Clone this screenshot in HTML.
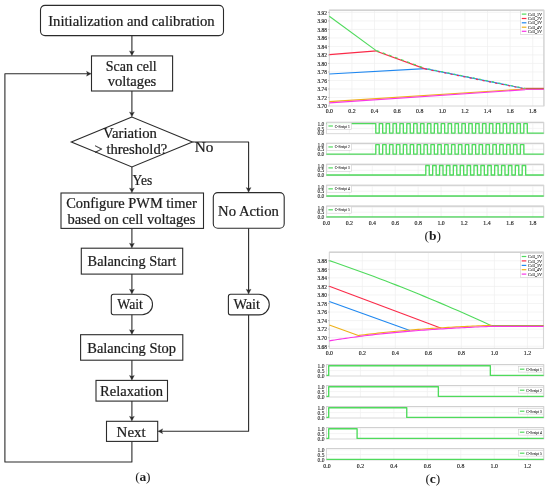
<!DOCTYPE html>
<html><head><meta charset="utf-8"><style>
html,body{margin:0;padding:0;background:#fff;width:550px;height:489px;overflow:hidden}
svg{display:block}
</style></head><body>
<svg width="550" height="489" viewBox="0 0 550 489">
<rect width="550" height="489" fill="#fff"/>
<rect x="40.50" y="5.40" width="183.00" height="30.20" rx="4.5" fill="#fff" stroke="#2b2b2b" stroke-width="1.1"/>
<text x="48.15" y="25.60" font-size="14.0" stroke="#1c1c1c" stroke-width="0.22" textLength="166.55" lengthAdjust="spacingAndGlyphs" fill="#1c1c1c" font-family="'Liberation Serif', 'DejaVu Serif', serif" >Initialization and calibration</text>
<line x1="131.90" y1="35.60" x2="131.90" y2="53.90" stroke="#2b2b2b" stroke-width="1.1" />
<path d="M131.90,55.90 Q131.04,53.65 129.45,50.90 L131.90,51.80 L134.35,50.90 Q132.76,53.65 131.90,55.90 Z" fill="#2b2b2b" stroke="#2b2b2b" stroke-width="0.3" stroke-linejoin="round"/>
<rect x="91.50" y="55.90" width="81.10" height="35.10" rx="0" fill="#fff" stroke="#2b2b2b" stroke-width="1.1"/>
<text x="105.85" y="70.60" font-size="14.0" stroke="#1c1c1c" stroke-width="0.22" textLength="50.85" lengthAdjust="spacingAndGlyphs" fill="#1c1c1c" font-family="'Liberation Serif', 'DejaVu Serif', serif" >Scan cell</text>
<text x="107.70" y="85.90" font-size="14.0" stroke="#1c1c1c" stroke-width="0.22" textLength="48.60" lengthAdjust="spacingAndGlyphs" fill="#1c1c1c" font-family="'Liberation Serif', 'DejaVu Serif', serif" >voltages</text>
<line x1="131.90" y1="91.00" x2="131.90" y2="115.00" stroke="#2b2b2b" stroke-width="1.1" />
<path d="M131.90,117.00 Q131.04,114.75 129.45,112.00 L131.90,112.90 L134.35,112.00 Q132.76,114.75 131.90,117.00 Z" fill="#2b2b2b" stroke="#2b2b2b" stroke-width="0.3" stroke-linejoin="round"/>
<polygon points="131.9,117.0 71.3,142.0 131.9,166.9 192.4,142.0" fill="#fff" stroke="#2b2b2b" stroke-width="1.1" stroke-linejoin="miter"/>
<text x="103.00" y="138.10" font-size="14.0" stroke="#1c1c1c" stroke-width="0.22" textLength="54.00" lengthAdjust="spacingAndGlyphs" fill="#1c1c1c" font-family="'Liberation Serif', 'DejaVu Serif', serif" >Variation</text>
<text x="94.50" y="154.30" font-size="14.0" stroke="#1c1c1c" stroke-width="0.22" textLength="72.70" lengthAdjust="spacingAndGlyphs" fill="#1c1c1c" font-family="'Liberation Serif', 'DejaVu Serif', serif" >&gt; threshold?</text>
<text x="194.85" y="152.00" font-size="14.0" stroke="#1c1c1c" stroke-width="0.22" textLength="18.65" lengthAdjust="spacingAndGlyphs" fill="#1c1c1c" font-family="'Liberation Serif', 'DejaVu Serif', serif" >No</text>
<text x="132.60" y="184.70" font-size="14.0" stroke="#1c1c1c" stroke-width="0.22" textLength="19.60" lengthAdjust="spacingAndGlyphs" fill="#1c1c1c" font-family="'Liberation Serif', 'DejaVu Serif', serif" >Yes</text>
<line x1="131.90" y1="166.90" x2="131.90" y2="191.00" stroke="#2b2b2b" stroke-width="1.1" />
<path d="M131.90,193.00 Q131.04,190.75 129.45,188.00 L131.90,188.90 L134.35,188.00 Q132.76,190.75 131.90,193.00 Z" fill="#2b2b2b" stroke="#2b2b2b" stroke-width="0.3" stroke-linejoin="round"/>
<rect x="61.00" y="193.00" width="142.50" height="35.40" rx="0" fill="#fff" stroke="#2b2b2b" stroke-width="1.1"/>
<text x="66.20" y="207.80" font-size="14.0" stroke="#1c1c1c" stroke-width="0.22" textLength="130.60" lengthAdjust="spacingAndGlyphs" fill="#1c1c1c" font-family="'Liberation Serif', 'DejaVu Serif', serif" >Configure PWM timer</text>
<text x="67.40" y="223.90" font-size="14.0" stroke="#1c1c1c" stroke-width="0.22" textLength="128.10" lengthAdjust="spacingAndGlyphs" fill="#1c1c1c" font-family="'Liberation Serif', 'DejaVu Serif', serif" >based on cell voltages</text>
<line x1="131.90" y1="228.40" x2="131.90" y2="246.20" stroke="#2b2b2b" stroke-width="1.1" />
<path d="M131.90,248.20 Q131.04,245.95 129.45,243.20 L131.90,244.10 L134.35,243.20 Q132.76,245.95 131.90,248.20 Z" fill="#2b2b2b" stroke="#2b2b2b" stroke-width="0.3" stroke-linejoin="round"/>
<rect x="81.30" y="248.20" width="101.40" height="25.90" rx="0" fill="#fff" stroke="#2b2b2b" stroke-width="1.1"/>
<text x="87.60" y="266.00" font-size="14.0" stroke="#1c1c1c" stroke-width="0.22" textLength="88.60" lengthAdjust="spacingAndGlyphs" fill="#1c1c1c" font-family="'Liberation Serif', 'DejaVu Serif', serif" >Balancing Start</text>
<line x1="131.90" y1="274.10" x2="131.90" y2="292.20" stroke="#2b2b2b" stroke-width="1.1" />
<path d="M131.90,294.20 Q131.04,291.95 129.45,289.20 L131.90,290.10 L134.35,289.20 Q132.76,291.95 131.90,294.20 Z" fill="#2b2b2b" stroke="#2b2b2b" stroke-width="0.3" stroke-linejoin="round"/>
<path d="M113.50,294.20 L142.25,294.20 A10.25,10.25 0 0 1 142.25,314.70 L113.50,314.70 Q111.30,314.70 111.30,312.50 L111.30,296.40 Q111.30,294.20 113.50,294.20 Z" fill="#fff" stroke="#2b2b2b" stroke-width="1.1"/>
<text x="117.30" y="309.20" font-size="14.0" stroke="#1c1c1c" stroke-width="0.22" textLength="25.60" lengthAdjust="spacingAndGlyphs" fill="#1c1c1c" font-family="'Liberation Serif', 'DejaVu Serif', serif" >Wait</text>
<line x1="131.90" y1="314.70" x2="131.90" y2="332.70" stroke="#2b2b2b" stroke-width="1.1" />
<path d="M131.90,334.70 Q131.04,332.45 129.45,329.70 L131.90,330.60 L134.35,329.70 Q132.76,332.45 131.90,334.70 Z" fill="#2b2b2b" stroke="#2b2b2b" stroke-width="0.3" stroke-linejoin="round"/>
<rect x="80.60" y="334.70" width="102.20" height="25.50" rx="0" fill="#fff" stroke="#2b2b2b" stroke-width="1.1"/>
<text x="87.30" y="352.50" font-size="14.0" stroke="#1c1c1c" stroke-width="0.22" textLength="88.60" lengthAdjust="spacingAndGlyphs" fill="#1c1c1c" font-family="'Liberation Serif', 'DejaVu Serif', serif" >Balancing Stop</text>
<line x1="131.90" y1="360.20" x2="131.90" y2="378.40" stroke="#2b2b2b" stroke-width="1.1" />
<path d="M131.90,380.40 Q131.04,378.15 129.45,375.40 L131.90,376.30 L134.35,375.40 Q132.76,378.15 131.90,380.40 Z" fill="#2b2b2b" stroke="#2b2b2b" stroke-width="0.3" stroke-linejoin="round"/>
<rect x="96.00" y="380.40" width="71.50" height="20.70" rx="0" fill="#fff" stroke="#2b2b2b" stroke-width="1.1"/>
<text x="100.00" y="396.30" font-size="14.0" stroke="#1c1c1c" stroke-width="0.22" textLength="63.00" lengthAdjust="spacingAndGlyphs" fill="#1c1c1c" font-family="'Liberation Serif', 'DejaVu Serif', serif" >Relaxation</text>
<line x1="131.90" y1="401.10" x2="131.90" y2="419.30" stroke="#2b2b2b" stroke-width="1.1" />
<path d="M131.90,421.30 Q131.04,419.05 129.45,416.30 L131.90,417.20 L134.35,416.30 Q132.76,419.05 131.90,421.30 Z" fill="#2b2b2b" stroke="#2b2b2b" stroke-width="0.3" stroke-linejoin="round"/>
<rect x="106.50" y="421.30" width="51.20" height="20.10" rx="0" fill="#fff" stroke="#2b2b2b" stroke-width="1.1"/>
<text x="116.60" y="436.60" font-size="14.0" stroke="#1c1c1c" stroke-width="0.22" textLength="29.10" lengthAdjust="spacingAndGlyphs" fill="#1c1c1c" font-family="'Liberation Serif', 'DejaVu Serif', serif" >Next</text>
<polyline points="131.90,441.40 131.90,462.00 4.90,462.00 4.90,73.70 89.00,73.70" fill="none" stroke="#2b2b2b" stroke-width="1.1" stroke-linejoin="round" stroke-linejoin="miter"/>
<path d="M91.50,73.70 Q89.25,72.84 86.50,71.25 L87.40,73.70 L86.50,76.15 Q89.25,74.56 91.50,73.70 Z" fill="#2b2b2b" stroke="#2b2b2b" stroke-width="0.3" stroke-linejoin="round"/>
<polyline points="192.40,142.00 248.60,142.00 248.60,190.60" fill="none" stroke="#2b2b2b" stroke-width="1.1" stroke-linejoin="round" stroke-linejoin="miter"/>
<path d="M248.60,192.60 Q247.74,190.35 246.15,187.60 L248.60,188.50 L251.05,187.60 Q249.46,190.35 248.60,192.60 Z" fill="#2b2b2b" stroke="#2b2b2b" stroke-width="0.3" stroke-linejoin="round"/>
<rect x="213.30" y="192.60" width="70.90" height="35.70" rx="4.5" fill="#fff" stroke="#2b2b2b" stroke-width="1.1"/>
<text x="218.10" y="215.60" font-size="14.0" stroke="#1c1c1c" stroke-width="0.22" textLength="60.80" lengthAdjust="spacingAndGlyphs" fill="#1c1c1c" font-family="'Liberation Serif', 'DejaVu Serif', serif" >No Action</text>
<line x1="248.60" y1="228.30" x2="248.60" y2="292.20" stroke="#2b2b2b" stroke-width="1.1" />
<path d="M248.60,294.20 Q247.74,291.95 246.15,289.20 L248.60,290.10 L251.05,289.20 Q249.46,291.95 248.60,294.20 Z" fill="#2b2b2b" stroke="#2b2b2b" stroke-width="0.3" stroke-linejoin="round"/>
<path d="M230.60,294.20 L258.95,294.20 A10.35,10.35 0 0 1 258.95,314.90 L230.60,314.90 Q228.40,314.90 228.40,312.70 L228.40,296.40 Q228.40,294.20 230.60,294.20 Z" fill="#fff" stroke="#2b2b2b" stroke-width="1.1"/>
<text x="233.40" y="309.20" font-size="14.0" stroke="#1c1c1c" stroke-width="0.22" textLength="26.70" lengthAdjust="spacingAndGlyphs" fill="#1c1c1c" font-family="'Liberation Serif', 'DejaVu Serif', serif" >Wait</text>
<polyline points="248.60,314.90 248.60,431.20 160.20,431.20" fill="none" stroke="#2b2b2b" stroke-width="1.1" stroke-linejoin="round" stroke-linejoin="miter"/>
<path d="M157.70,431.20 Q159.95,430.34 162.70,428.75 L161.80,431.20 L162.70,433.65 Q159.95,432.06 157.70,431.20 Z" fill="#2b2b2b" stroke="#2b2b2b" stroke-width="0.3" stroke-linejoin="round"/>
<text x="135.15" y="480.60" font-size="13.5" fill="#1c1c1c" font-family="'Liberation Serif', 'DejaVu Serif', serif" >(</text>
<text x="139.55" y="480.60" font-size="13.5" font-weight="bold" fill="#1c1c1c" font-family="'Liberation Serif', 'DejaVu Serif', serif" >a</text>
<text x="146.05" y="480.60" font-size="13.5" fill="#1c1c1c" font-family="'Liberation Serif', 'DejaVu Serif', serif" >)</text>
<line x1="351.90" y1="10.20" x2="351.90" y2="106.00" stroke="#efefef" stroke-width="0.7" />
<line x1="374.50" y1="10.20" x2="374.50" y2="106.00" stroke="#efefef" stroke-width="0.7" />
<line x1="397.10" y1="10.20" x2="397.10" y2="106.00" stroke="#efefef" stroke-width="0.7" />
<line x1="419.70" y1="10.20" x2="419.70" y2="106.00" stroke="#efefef" stroke-width="0.7" />
<line x1="442.30" y1="10.20" x2="442.30" y2="106.00" stroke="#efefef" stroke-width="0.7" />
<line x1="464.90" y1="10.20" x2="464.90" y2="106.00" stroke="#efefef" stroke-width="0.7" />
<line x1="487.50" y1="10.20" x2="487.50" y2="106.00" stroke="#efefef" stroke-width="0.7" />
<line x1="510.10" y1="10.20" x2="510.10" y2="106.00" stroke="#efefef" stroke-width="0.7" />
<line x1="532.70" y1="10.20" x2="532.70" y2="106.00" stroke="#efefef" stroke-width="0.7" />
<line x1="329.30" y1="97.49" x2="543.90" y2="97.49" stroke="#efefef" stroke-width="0.7" />
<line x1="329.30" y1="88.98" x2="543.90" y2="88.98" stroke="#efefef" stroke-width="0.7" />
<line x1="329.30" y1="80.47" x2="543.90" y2="80.47" stroke="#efefef" stroke-width="0.7" />
<line x1="329.30" y1="71.96" x2="543.90" y2="71.96" stroke="#efefef" stroke-width="0.7" />
<line x1="329.30" y1="63.45" x2="543.90" y2="63.45" stroke="#efefef" stroke-width="0.7" />
<line x1="329.30" y1="54.94" x2="543.90" y2="54.94" stroke="#efefef" stroke-width="0.7" />
<line x1="329.30" y1="46.43" x2="543.90" y2="46.43" stroke="#efefef" stroke-width="0.7" />
<line x1="329.30" y1="37.92" x2="543.90" y2="37.92" stroke="#efefef" stroke-width="0.7" />
<line x1="329.30" y1="29.41" x2="543.90" y2="29.41" stroke="#efefef" stroke-width="0.7" />
<line x1="329.30" y1="20.90" x2="543.90" y2="20.90" stroke="#efefef" stroke-width="0.7" />
<line x1="329.30" y1="12.39" x2="543.90" y2="12.39" stroke="#efefef" stroke-width="0.7" />
<rect x="329.30" y="10.20" width="214.60" height="95.80" fill="none" stroke="#d4d4d4" stroke-width="1.0"/>
<line x1="329.30" y1="10.20" x2="543.90" y2="10.20" stroke="#d2d2d2" stroke-width="1.4" />
<line x1="543.90" y1="10.20" x2="543.90" y2="106.00" stroke="#d6d6d6" stroke-width="1.1" />
<line x1="328.10" y1="106.00" x2="329.30" y2="106.00" stroke="#999" stroke-width="0.6" />
<text x="317.50" y="108.35" font-size="6.8" stroke="#1a1a1a" stroke-width="0.16" textLength="9.40" lengthAdjust="spacingAndGlyphs" fill="#1a1a1a" font-family="'Liberation Serif', serif" >3.70</text>
<line x1="328.10" y1="97.49" x2="329.30" y2="97.49" stroke="#999" stroke-width="0.6" />
<text x="317.50" y="99.84" font-size="6.8" stroke="#1a1a1a" stroke-width="0.16" textLength="9.40" lengthAdjust="spacingAndGlyphs" fill="#1a1a1a" font-family="'Liberation Serif', serif" >3.72</text>
<line x1="328.10" y1="88.98" x2="329.30" y2="88.98" stroke="#999" stroke-width="0.6" />
<text x="317.50" y="91.33" font-size="6.8" stroke="#1a1a1a" stroke-width="0.16" textLength="9.40" lengthAdjust="spacingAndGlyphs" fill="#1a1a1a" font-family="'Liberation Serif', serif" >3.74</text>
<line x1="328.10" y1="80.47" x2="329.30" y2="80.47" stroke="#999" stroke-width="0.6" />
<text x="317.50" y="82.82" font-size="6.8" stroke="#1a1a1a" stroke-width="0.16" textLength="9.40" lengthAdjust="spacingAndGlyphs" fill="#1a1a1a" font-family="'Liberation Serif', serif" >3.76</text>
<line x1="328.10" y1="71.96" x2="329.30" y2="71.96" stroke="#999" stroke-width="0.6" />
<text x="317.50" y="74.31" font-size="6.8" stroke="#1a1a1a" stroke-width="0.16" textLength="9.40" lengthAdjust="spacingAndGlyphs" fill="#1a1a1a" font-family="'Liberation Serif', serif" >3.78</text>
<line x1="328.10" y1="63.45" x2="329.30" y2="63.45" stroke="#999" stroke-width="0.6" />
<text x="317.50" y="65.80" font-size="6.8" stroke="#1a1a1a" stroke-width="0.16" textLength="9.40" lengthAdjust="spacingAndGlyphs" fill="#1a1a1a" font-family="'Liberation Serif', serif" >3.80</text>
<line x1="328.10" y1="54.94" x2="329.30" y2="54.94" stroke="#999" stroke-width="0.6" />
<text x="317.50" y="57.29" font-size="6.8" stroke="#1a1a1a" stroke-width="0.16" textLength="9.40" lengthAdjust="spacingAndGlyphs" fill="#1a1a1a" font-family="'Liberation Serif', serif" >3.82</text>
<line x1="328.10" y1="46.43" x2="329.30" y2="46.43" stroke="#999" stroke-width="0.6" />
<text x="317.50" y="48.78" font-size="6.8" stroke="#1a1a1a" stroke-width="0.16" textLength="9.40" lengthAdjust="spacingAndGlyphs" fill="#1a1a1a" font-family="'Liberation Serif', serif" >3.84</text>
<line x1="328.10" y1="37.92" x2="329.30" y2="37.92" stroke="#999" stroke-width="0.6" />
<text x="317.50" y="40.27" font-size="6.8" stroke="#1a1a1a" stroke-width="0.16" textLength="9.40" lengthAdjust="spacingAndGlyphs" fill="#1a1a1a" font-family="'Liberation Serif', serif" >3.86</text>
<line x1="328.10" y1="29.41" x2="329.30" y2="29.41" stroke="#999" stroke-width="0.6" />
<text x="317.50" y="31.76" font-size="6.8" stroke="#1a1a1a" stroke-width="0.16" textLength="9.40" lengthAdjust="spacingAndGlyphs" fill="#1a1a1a" font-family="'Liberation Serif', serif" >3.88</text>
<line x1="328.10" y1="20.90" x2="329.30" y2="20.90" stroke="#999" stroke-width="0.6" />
<text x="317.50" y="23.25" font-size="6.8" stroke="#1a1a1a" stroke-width="0.16" textLength="9.40" lengthAdjust="spacingAndGlyphs" fill="#1a1a1a" font-family="'Liberation Serif', serif" >3.90</text>
<line x1="328.10" y1="12.39" x2="329.30" y2="12.39" stroke="#999" stroke-width="0.6" />
<text x="317.50" y="14.74" font-size="6.8" stroke="#1a1a1a" stroke-width="0.16" textLength="9.40" lengthAdjust="spacingAndGlyphs" fill="#1a1a1a" font-family="'Liberation Serif', serif" >3.92</text>
<text x="325.65" y="113.00" font-size="6.8" stroke="#1a1a1a" stroke-width="0.16" textLength="7.30" lengthAdjust="spacingAndGlyphs" fill="#1a1a1a" font-family="'Liberation Serif', serif" >0.0</text>
<text x="348.25" y="113.00" font-size="6.8" stroke="#1a1a1a" stroke-width="0.16" textLength="7.30" lengthAdjust="spacingAndGlyphs" fill="#1a1a1a" font-family="'Liberation Serif', serif" >0.2</text>
<text x="370.85" y="113.00" font-size="6.8" stroke="#1a1a1a" stroke-width="0.16" textLength="7.30" lengthAdjust="spacingAndGlyphs" fill="#1a1a1a" font-family="'Liberation Serif', serif" >0.4</text>
<text x="393.45" y="113.00" font-size="6.8" stroke="#1a1a1a" stroke-width="0.16" textLength="7.30" lengthAdjust="spacingAndGlyphs" fill="#1a1a1a" font-family="'Liberation Serif', serif" >0.6</text>
<text x="416.05" y="113.00" font-size="6.8" stroke="#1a1a1a" stroke-width="0.16" textLength="7.30" lengthAdjust="spacingAndGlyphs" fill="#1a1a1a" font-family="'Liberation Serif', serif" >0.8</text>
<text x="438.65" y="113.00" font-size="6.8" stroke="#1a1a1a" stroke-width="0.16" textLength="7.30" lengthAdjust="spacingAndGlyphs" fill="#1a1a1a" font-family="'Liberation Serif', serif" >1.0</text>
<text x="461.25" y="113.00" font-size="6.8" stroke="#1a1a1a" stroke-width="0.16" textLength="7.30" lengthAdjust="spacingAndGlyphs" fill="#1a1a1a" font-family="'Liberation Serif', serif" >1.2</text>
<text x="483.85" y="113.00" font-size="6.8" stroke="#1a1a1a" stroke-width="0.16" textLength="7.30" lengthAdjust="spacingAndGlyphs" fill="#1a1a1a" font-family="'Liberation Serif', serif" >1.4</text>
<text x="506.45" y="113.00" font-size="6.8" stroke="#1a1a1a" stroke-width="0.16" textLength="7.30" lengthAdjust="spacingAndGlyphs" fill="#1a1a1a" font-family="'Liberation Serif', serif" >1.6</text>
<text x="529.05" y="113.00" font-size="6.8" stroke="#1a1a1a" stroke-width="0.16" textLength="7.30" lengthAdjust="spacingAndGlyphs" fill="#1a1a1a" font-family="'Liberation Serif', serif" >1.8</text>
<polyline points="329.30,74.00 425.01,68.60" fill="none" stroke="#2088f0" stroke-width="1.12" stroke-linejoin="round" />
<polyline points="329.30,54.60 376.53,50.90" fill="none" stroke="#fa2a48" stroke-width="1.12" stroke-linejoin="round" />
<polyline points="329.30,16.22 376.53,50.90" fill="none" stroke="#4fda5c" stroke-width="1.12" stroke-linejoin="round" />
<polyline points="376.53,51.20 425.01,68.90" fill="none" stroke="#fa2a48" stroke-width="1.12" stroke-linejoin="round" />
<polyline points="376.53,50.60 425.01,68.30" fill="none" stroke="#4fda5c" stroke-width="1.12" stroke-linejoin="round" stroke-dasharray="3.0,3.5"/>
<polyline points="425.01,68.60 525.24,88.68" fill="none" stroke="#2088f0" stroke-width="1.12" stroke-linejoin="round" />
<polyline points="425.01,68.95 525.24,89.03" fill="none" stroke="#fa2a48" stroke-width="1.12" stroke-linejoin="round" stroke-dasharray="2.2,4.3"/>
<polyline points="425.01,68.25 525.24,88.33" fill="none" stroke="#4fda5c" stroke-width="1.12" stroke-linejoin="round" stroke-dasharray="2.2,4.3" stroke-dashoffset="3.2"/>
<polyline points="329.30,101.61 525.24,88.97" fill="none" stroke="#eeb11a" stroke-width="1.12" stroke-linejoin="round" />
<polyline points="329.30,102.91 525.24,89.77" fill="none" stroke="#fa36e6" stroke-width="1.12" stroke-linejoin="round" />
<polyline points="525.24,89.32 543.90,89.32" fill="none" stroke="#fa36e6" stroke-width="1.12" stroke-linejoin="round" />
<polyline points="525.24,88.47 543.90,88.47" fill="none" stroke="#c2674c" stroke-width="1.4" stroke-linejoin="round" />
<rect x="520.50" y="10.90" width="23.00" height="23.70" fill="#fff" fill-opacity="0.9" stroke="#cfcfcf" stroke-width="0.6"/>
<line x1="521.80" y1="14.10" x2="526.40" y2="14.10" stroke="#4fda5c" stroke-width="1.2" />
<text x="528.00" y="15.70" font-size="4.4" stroke="#2a2a2a" stroke-width="0.08" textLength="14.00" lengthAdjust="spacingAndGlyphs" fill="#2a2a2a" font-family="'Liberation Serif', serif" >Cell_1V</text>
<line x1="521.80" y1="18.50" x2="526.40" y2="18.50" stroke="#fa2a48" stroke-width="1.2" />
<text x="528.00" y="20.10" font-size="4.4" stroke="#2a2a2a" stroke-width="0.08" textLength="14.00" lengthAdjust="spacingAndGlyphs" fill="#2a2a2a" font-family="'Liberation Serif', serif" >Cell_2V</text>
<line x1="521.80" y1="22.80" x2="526.40" y2="22.80" stroke="#2088f0" stroke-width="1.2" />
<text x="528.00" y="24.40" font-size="4.4" stroke="#2a2a2a" stroke-width="0.08" textLength="14.00" lengthAdjust="spacingAndGlyphs" fill="#2a2a2a" font-family="'Liberation Serif', serif" >Cell_3V</text>
<line x1="521.80" y1="27.20" x2="526.40" y2="27.20" stroke="#eeb11a" stroke-width="1.2" />
<text x="528.00" y="28.80" font-size="4.4" stroke="#2a2a2a" stroke-width="0.08" textLength="14.00" lengthAdjust="spacingAndGlyphs" fill="#2a2a2a" font-family="'Liberation Serif', serif" >Cell_4V</text>
<line x1="521.80" y1="31.30" x2="526.40" y2="31.30" stroke="#fa36e6" stroke-width="1.2" />
<text x="528.00" y="32.90" font-size="4.4" stroke="#2a2a2a" stroke-width="0.08" textLength="14.00" lengthAdjust="spacingAndGlyphs" fill="#2a2a2a" font-family="'Liberation Serif', serif" >Cell_5V</text>
<line x1="349.34" y1="122.40" x2="349.34" y2="133.70" stroke="#efefef" stroke-width="0.7" />
<line x1="372.28" y1="122.40" x2="372.28" y2="133.70" stroke="#efefef" stroke-width="0.7" />
<line x1="395.22" y1="122.40" x2="395.22" y2="133.70" stroke="#efefef" stroke-width="0.7" />
<line x1="418.16" y1="122.40" x2="418.16" y2="133.70" stroke="#efefef" stroke-width="0.7" />
<line x1="441.10" y1="122.40" x2="441.10" y2="133.70" stroke="#efefef" stroke-width="0.7" />
<line x1="464.04" y1="122.40" x2="464.04" y2="133.70" stroke="#efefef" stroke-width="0.7" />
<line x1="486.98" y1="122.40" x2="486.98" y2="133.70" stroke="#efefef" stroke-width="0.7" />
<line x1="509.92" y1="122.40" x2="509.92" y2="133.70" stroke="#efefef" stroke-width="0.7" />
<line x1="532.86" y1="122.40" x2="532.86" y2="133.70" stroke="#efefef" stroke-width="0.7" />
<line x1="326.40" y1="128.35" x2="543.70" y2="128.35" stroke="#efefef" stroke-width="0.7" />
<line x1="326.40" y1="123.60" x2="543.70" y2="123.60" stroke="#efefef" stroke-width="0.7" />
<rect x="326.40" y="122.40" width="217.30" height="11.30" fill="none" stroke="#d4d4d4" stroke-width="0.9"/>
<line x1="326.40" y1="122.40" x2="543.70" y2="122.40" stroke="#d0d0d0" stroke-width="1.2" />
<line x1="543.70" y1="122.40" x2="543.70" y2="133.70" stroke="#d6d6d6" stroke-width="1.0" />
<text x="317.40" y="125.90" font-size="6.4" stroke="#1a1a1a" stroke-width="0.1" textLength="6.90" lengthAdjust="spacingAndGlyphs" fill="#1a1a1a" font-family="'Liberation Serif', serif" >1.0</text>
<text x="317.40" y="130.50" font-size="6.4" stroke="#1a1a1a" stroke-width="0.1" textLength="6.90" lengthAdjust="spacingAndGlyphs" fill="#1a1a1a" font-family="'Liberation Serif', serif" >0.5</text>
<text x="317.40" y="135.20" font-size="6.4" stroke="#1a1a1a" stroke-width="0.1" textLength="6.90" lengthAdjust="spacingAndGlyphs" fill="#1a1a1a" font-family="'Liberation Serif', serif" >0.0</text>
<polyline points="326.40,123.60 375.80,123.60 375.80,133.10 379.24,133.10 379.24,123.60 382.69,123.60 382.69,133.10 386.13,133.10 386.13,123.60 389.57,123.60 389.57,133.10 393.01,133.10 393.01,123.60 396.46,123.60 396.46,133.10 399.90,133.10 399.90,123.60 403.34,123.60 403.34,133.10 406.79,133.10 406.79,123.60 410.23,123.60 410.23,133.10 413.67,133.10 413.67,123.60 417.12,123.60 417.12,133.10 420.56,133.10 420.56,123.60 424.00,123.60 424.00,133.10 427.44,133.10 427.44,123.60 430.89,123.60 430.89,133.10 434.33,133.10 434.33,123.60 437.77,123.60 437.77,133.10 441.22,133.10 441.22,123.60 444.66,123.60 444.66,133.10 448.10,133.10 448.10,123.60 451.55,123.60 451.55,133.10 454.99,133.10 454.99,123.60 458.43,123.60 458.43,133.10 461.88,133.10 461.88,123.60 465.32,123.60 465.32,133.10 468.76,133.10 468.76,123.60 472.20,123.60 472.20,133.10 475.65,133.10 475.65,123.60 479.09,123.60 479.09,133.10 482.53,133.10 482.53,123.60 485.98,123.60 485.98,133.10 489.42,133.10 489.42,123.60 492.86,123.60 492.86,133.10 496.31,133.10 496.31,123.60 499.75,123.60 499.75,133.10 503.19,133.10 503.19,123.60 506.63,123.60 506.63,133.10 510.08,133.10 510.08,123.60 513.52,123.60 513.52,133.10 516.96,133.10 516.96,123.60 520.41,123.60 520.41,133.10 523.85,133.10 523.85,123.60 527.29,123.60 527.29,133.10 543.70,133.10" fill="none" stroke="#4fda5c" stroke-width="1.35" stroke-linejoin="round" />
<rect x="326.90" y="122.60" width="24.50" height="6.80" fill="#fff" fill-opacity="0.9" stroke="#cfcfcf" stroke-width="0.6"/>
<line x1="328.40" y1="126.00" x2="332.90" y2="126.00" stroke="#4fda5c" stroke-width="1.2" />
<text x="334.80" y="127.50" font-size="4.4" stroke="#2a2a2a" stroke-width="0.08" textLength="14.90" lengthAdjust="spacingAndGlyphs" fill="#2a2a2a" font-family="'Liberation Serif', serif" >C-Script 1</text>
<line x1="349.34" y1="143.35" x2="349.34" y2="154.65" stroke="#efefef" stroke-width="0.7" />
<line x1="372.28" y1="143.35" x2="372.28" y2="154.65" stroke="#efefef" stroke-width="0.7" />
<line x1="395.22" y1="143.35" x2="395.22" y2="154.65" stroke="#efefef" stroke-width="0.7" />
<line x1="418.16" y1="143.35" x2="418.16" y2="154.65" stroke="#efefef" stroke-width="0.7" />
<line x1="441.10" y1="143.35" x2="441.10" y2="154.65" stroke="#efefef" stroke-width="0.7" />
<line x1="464.04" y1="143.35" x2="464.04" y2="154.65" stroke="#efefef" stroke-width="0.7" />
<line x1="486.98" y1="143.35" x2="486.98" y2="154.65" stroke="#efefef" stroke-width="0.7" />
<line x1="509.92" y1="143.35" x2="509.92" y2="154.65" stroke="#efefef" stroke-width="0.7" />
<line x1="532.86" y1="143.35" x2="532.86" y2="154.65" stroke="#efefef" stroke-width="0.7" />
<line x1="326.40" y1="149.30" x2="543.70" y2="149.30" stroke="#efefef" stroke-width="0.7" />
<line x1="326.40" y1="144.55" x2="543.70" y2="144.55" stroke="#efefef" stroke-width="0.7" />
<rect x="326.40" y="143.35" width="217.30" height="11.30" fill="none" stroke="#d4d4d4" stroke-width="0.9"/>
<line x1="326.40" y1="143.35" x2="543.70" y2="143.35" stroke="#d0d0d0" stroke-width="1.2" />
<line x1="543.70" y1="143.35" x2="543.70" y2="154.65" stroke="#d6d6d6" stroke-width="1.0" />
<text x="317.40" y="146.85" font-size="6.4" stroke="#1a1a1a" stroke-width="0.1" textLength="6.90" lengthAdjust="spacingAndGlyphs" fill="#1a1a1a" font-family="'Liberation Serif', serif" >1.0</text>
<text x="317.40" y="151.45" font-size="6.4" stroke="#1a1a1a" stroke-width="0.1" textLength="6.90" lengthAdjust="spacingAndGlyphs" fill="#1a1a1a" font-family="'Liberation Serif', serif" >0.5</text>
<text x="317.40" y="156.15" font-size="6.4" stroke="#1a1a1a" stroke-width="0.1" textLength="6.90" lengthAdjust="spacingAndGlyphs" fill="#1a1a1a" font-family="'Liberation Serif', serif" >0.0</text>
<polyline points="326.40,154.05 375.80,154.05 375.80,144.55 379.24,144.55 379.24,154.05 382.69,154.05 382.69,144.55 386.13,144.55 386.13,154.05 389.57,154.05 389.57,144.55 393.01,144.55 393.01,154.05 396.46,154.05 396.46,144.55 399.90,144.55 399.90,154.05 403.34,154.05 403.34,144.55 406.79,144.55 406.79,154.05 410.23,154.05 410.23,144.55 413.67,144.55 413.67,154.05 417.12,154.05 417.12,144.55 420.56,144.55 420.56,154.05 424.00,154.05 424.00,144.55 427.44,144.55 427.44,154.05 430.89,154.05 430.89,144.55 434.33,144.55 434.33,154.05 437.77,154.05 437.77,144.55 441.22,144.55 441.22,154.05 444.66,154.05 444.66,144.55 448.10,144.55 448.10,154.05 451.55,154.05 451.55,144.55 454.99,144.55 454.99,154.05 458.43,154.05 458.43,144.55 461.88,144.55 461.88,154.05 465.32,154.05 465.32,144.55 468.76,144.55 468.76,154.05 472.20,154.05 472.20,144.55 475.65,144.55 475.65,154.05 479.09,154.05 479.09,144.55 482.53,144.55 482.53,154.05 485.98,154.05 485.98,144.55 489.42,144.55 489.42,154.05 492.86,154.05 492.86,144.55 496.31,144.55 496.31,154.05 499.75,154.05 499.75,144.55 503.19,144.55 503.19,154.05 506.63,154.05 506.63,144.55 510.08,144.55 510.08,154.05 513.52,154.05 513.52,144.55 516.96,144.55 516.96,154.05 520.41,154.05 520.41,144.55 523.85,144.55 523.85,154.05 543.70,154.05" fill="none" stroke="#4fda5c" stroke-width="1.35" stroke-linejoin="round" />
<rect x="326.90" y="143.55" width="24.50" height="6.80" fill="#fff" fill-opacity="0.9" stroke="#cfcfcf" stroke-width="0.6"/>
<line x1="328.40" y1="146.95" x2="332.90" y2="146.95" stroke="#4fda5c" stroke-width="1.2" />
<text x="334.80" y="148.45" font-size="4.4" stroke="#2a2a2a" stroke-width="0.08" textLength="14.90" lengthAdjust="spacingAndGlyphs" fill="#2a2a2a" font-family="'Liberation Serif', serif" >C-Script 2</text>
<line x1="349.34" y1="164.30" x2="349.34" y2="175.60" stroke="#efefef" stroke-width="0.7" />
<line x1="372.28" y1="164.30" x2="372.28" y2="175.60" stroke="#efefef" stroke-width="0.7" />
<line x1="395.22" y1="164.30" x2="395.22" y2="175.60" stroke="#efefef" stroke-width="0.7" />
<line x1="418.16" y1="164.30" x2="418.16" y2="175.60" stroke="#efefef" stroke-width="0.7" />
<line x1="441.10" y1="164.30" x2="441.10" y2="175.60" stroke="#efefef" stroke-width="0.7" />
<line x1="464.04" y1="164.30" x2="464.04" y2="175.60" stroke="#efefef" stroke-width="0.7" />
<line x1="486.98" y1="164.30" x2="486.98" y2="175.60" stroke="#efefef" stroke-width="0.7" />
<line x1="509.92" y1="164.30" x2="509.92" y2="175.60" stroke="#efefef" stroke-width="0.7" />
<line x1="532.86" y1="164.30" x2="532.86" y2="175.60" stroke="#efefef" stroke-width="0.7" />
<line x1="326.40" y1="170.25" x2="543.70" y2="170.25" stroke="#efefef" stroke-width="0.7" />
<line x1="326.40" y1="165.50" x2="543.70" y2="165.50" stroke="#efefef" stroke-width="0.7" />
<rect x="326.40" y="164.30" width="217.30" height="11.30" fill="none" stroke="#d4d4d4" stroke-width="0.9"/>
<line x1="326.40" y1="164.30" x2="543.70" y2="164.30" stroke="#d0d0d0" stroke-width="1.2" />
<line x1="543.70" y1="164.30" x2="543.70" y2="175.60" stroke="#d6d6d6" stroke-width="1.0" />
<text x="317.40" y="167.80" font-size="6.4" stroke="#1a1a1a" stroke-width="0.1" textLength="6.90" lengthAdjust="spacingAndGlyphs" fill="#1a1a1a" font-family="'Liberation Serif', serif" >1.0</text>
<text x="317.40" y="172.40" font-size="6.4" stroke="#1a1a1a" stroke-width="0.1" textLength="6.90" lengthAdjust="spacingAndGlyphs" fill="#1a1a1a" font-family="'Liberation Serif', serif" >0.5</text>
<text x="317.40" y="177.10" font-size="6.4" stroke="#1a1a1a" stroke-width="0.1" textLength="6.90" lengthAdjust="spacingAndGlyphs" fill="#1a1a1a" font-family="'Liberation Serif', serif" >0.0</text>
<polyline points="326.40,175.00 425.80,175.00 425.80,165.50 429.24,165.50 429.24,175.00 432.69,175.00 432.69,165.50 436.13,165.50 436.13,175.00 439.57,175.00 439.57,165.50 443.01,165.50 443.01,175.00 446.46,175.00 446.46,165.50 449.90,165.50 449.90,175.00 453.34,175.00 453.34,165.50 456.79,165.50 456.79,175.00 460.23,175.00 460.23,165.50 463.67,165.50 463.67,175.00 467.12,175.00 467.12,165.50 470.56,165.50 470.56,175.00 474.00,175.00 474.00,165.50 477.44,165.50 477.44,175.00 480.89,175.00 480.89,165.50 484.33,165.50 484.33,175.00 487.77,175.00 487.77,165.50 491.22,165.50 491.22,175.00 494.66,175.00 494.66,165.50 498.10,165.50 498.10,175.00 501.55,175.00 501.55,165.50 504.99,165.50 504.99,175.00 508.43,175.00 508.43,165.50 511.88,165.50 511.88,175.00 515.32,175.00 515.32,165.50 518.76,165.50 518.76,175.00 522.20,175.00 522.20,165.50 525.65,165.50 525.65,175.00 543.70,175.00" fill="none" stroke="#4fda5c" stroke-width="1.35" stroke-linejoin="round" />
<rect x="326.90" y="164.50" width="24.50" height="6.80" fill="#fff" fill-opacity="0.9" stroke="#cfcfcf" stroke-width="0.6"/>
<line x1="328.40" y1="167.90" x2="332.90" y2="167.90" stroke="#4fda5c" stroke-width="1.2" />
<text x="334.80" y="169.40" font-size="4.4" stroke="#2a2a2a" stroke-width="0.08" textLength="14.90" lengthAdjust="spacingAndGlyphs" fill="#2a2a2a" font-family="'Liberation Serif', serif" >C-Script 3</text>
<line x1="349.34" y1="185.25" x2="349.34" y2="196.55" stroke="#efefef" stroke-width="0.7" />
<line x1="372.28" y1="185.25" x2="372.28" y2="196.55" stroke="#efefef" stroke-width="0.7" />
<line x1="395.22" y1="185.25" x2="395.22" y2="196.55" stroke="#efefef" stroke-width="0.7" />
<line x1="418.16" y1="185.25" x2="418.16" y2="196.55" stroke="#efefef" stroke-width="0.7" />
<line x1="441.10" y1="185.25" x2="441.10" y2="196.55" stroke="#efefef" stroke-width="0.7" />
<line x1="464.04" y1="185.25" x2="464.04" y2="196.55" stroke="#efefef" stroke-width="0.7" />
<line x1="486.98" y1="185.25" x2="486.98" y2="196.55" stroke="#efefef" stroke-width="0.7" />
<line x1="509.92" y1="185.25" x2="509.92" y2="196.55" stroke="#efefef" stroke-width="0.7" />
<line x1="532.86" y1="185.25" x2="532.86" y2="196.55" stroke="#efefef" stroke-width="0.7" />
<line x1="326.40" y1="191.20" x2="543.70" y2="191.20" stroke="#efefef" stroke-width="0.7" />
<line x1="326.40" y1="186.45" x2="543.70" y2="186.45" stroke="#efefef" stroke-width="0.7" />
<rect x="326.40" y="185.25" width="217.30" height="11.30" fill="none" stroke="#d4d4d4" stroke-width="0.9"/>
<line x1="326.40" y1="185.25" x2="543.70" y2="185.25" stroke="#d0d0d0" stroke-width="1.2" />
<line x1="543.70" y1="185.25" x2="543.70" y2="196.55" stroke="#d6d6d6" stroke-width="1.0" />
<text x="317.40" y="188.75" font-size="6.4" stroke="#1a1a1a" stroke-width="0.1" textLength="6.90" lengthAdjust="spacingAndGlyphs" fill="#1a1a1a" font-family="'Liberation Serif', serif" >1.0</text>
<text x="317.40" y="193.35" font-size="6.4" stroke="#1a1a1a" stroke-width="0.1" textLength="6.90" lengthAdjust="spacingAndGlyphs" fill="#1a1a1a" font-family="'Liberation Serif', serif" >0.5</text>
<text x="317.40" y="198.05" font-size="6.4" stroke="#1a1a1a" stroke-width="0.1" textLength="6.90" lengthAdjust="spacingAndGlyphs" fill="#1a1a1a" font-family="'Liberation Serif', serif" >0.0</text>
<polyline points="326.40,195.95 543.70,195.95" fill="none" stroke="#4fda5c" stroke-width="1.35" stroke-linejoin="round" />
<rect x="326.90" y="185.45" width="24.50" height="6.80" fill="#fff" fill-opacity="0.9" stroke="#cfcfcf" stroke-width="0.6"/>
<line x1="328.40" y1="188.85" x2="332.90" y2="188.85" stroke="#4fda5c" stroke-width="1.2" />
<text x="334.80" y="190.35" font-size="4.4" stroke="#2a2a2a" stroke-width="0.08" textLength="14.90" lengthAdjust="spacingAndGlyphs" fill="#2a2a2a" font-family="'Liberation Serif', serif" >C-Script 4</text>
<line x1="349.34" y1="206.20" x2="349.34" y2="217.50" stroke="#efefef" stroke-width="0.7" />
<line x1="372.28" y1="206.20" x2="372.28" y2="217.50" stroke="#efefef" stroke-width="0.7" />
<line x1="395.22" y1="206.20" x2="395.22" y2="217.50" stroke="#efefef" stroke-width="0.7" />
<line x1="418.16" y1="206.20" x2="418.16" y2="217.50" stroke="#efefef" stroke-width="0.7" />
<line x1="441.10" y1="206.20" x2="441.10" y2="217.50" stroke="#efefef" stroke-width="0.7" />
<line x1="464.04" y1="206.20" x2="464.04" y2="217.50" stroke="#efefef" stroke-width="0.7" />
<line x1="486.98" y1="206.20" x2="486.98" y2="217.50" stroke="#efefef" stroke-width="0.7" />
<line x1="509.92" y1="206.20" x2="509.92" y2="217.50" stroke="#efefef" stroke-width="0.7" />
<line x1="532.86" y1="206.20" x2="532.86" y2="217.50" stroke="#efefef" stroke-width="0.7" />
<line x1="326.40" y1="212.15" x2="543.70" y2="212.15" stroke="#efefef" stroke-width="0.7" />
<line x1="326.40" y1="207.40" x2="543.70" y2="207.40" stroke="#efefef" stroke-width="0.7" />
<rect x="326.40" y="206.20" width="217.30" height="11.30" fill="none" stroke="#d4d4d4" stroke-width="0.9"/>
<line x1="326.40" y1="206.20" x2="543.70" y2="206.20" stroke="#d0d0d0" stroke-width="1.2" />
<line x1="543.70" y1="206.20" x2="543.70" y2="217.50" stroke="#d6d6d6" stroke-width="1.0" />
<text x="317.40" y="209.70" font-size="6.4" stroke="#1a1a1a" stroke-width="0.1" textLength="6.90" lengthAdjust="spacingAndGlyphs" fill="#1a1a1a" font-family="'Liberation Serif', serif" >1.0</text>
<text x="317.40" y="214.30" font-size="6.4" stroke="#1a1a1a" stroke-width="0.1" textLength="6.90" lengthAdjust="spacingAndGlyphs" fill="#1a1a1a" font-family="'Liberation Serif', serif" >0.5</text>
<text x="317.40" y="219.00" font-size="6.4" stroke="#1a1a1a" stroke-width="0.1" textLength="6.90" lengthAdjust="spacingAndGlyphs" fill="#1a1a1a" font-family="'Liberation Serif', serif" >0.0</text>
<polyline points="326.40,216.90 543.70,216.90" fill="none" stroke="#4fda5c" stroke-width="1.35" stroke-linejoin="round" />
<rect x="326.90" y="206.40" width="24.50" height="6.80" fill="#fff" fill-opacity="0.9" stroke="#cfcfcf" stroke-width="0.6"/>
<line x1="328.40" y1="209.80" x2="332.90" y2="209.80" stroke="#4fda5c" stroke-width="1.2" />
<text x="334.80" y="211.30" font-size="4.4" stroke="#2a2a2a" stroke-width="0.08" textLength="14.90" lengthAdjust="spacingAndGlyphs" fill="#2a2a2a" font-family="'Liberation Serif', serif" >C-Script 5</text>
<text x="322.75" y="225.40" font-size="6.8" stroke="#1a1a1a" stroke-width="0.16" textLength="7.30" lengthAdjust="spacingAndGlyphs" fill="#1a1a1a" font-family="'Liberation Serif', serif" >0.0</text>
<text x="345.69" y="225.40" font-size="6.8" stroke="#1a1a1a" stroke-width="0.16" textLength="7.30" lengthAdjust="spacingAndGlyphs" fill="#1a1a1a" font-family="'Liberation Serif', serif" >0.2</text>
<text x="368.63" y="225.40" font-size="6.8" stroke="#1a1a1a" stroke-width="0.16" textLength="7.30" lengthAdjust="spacingAndGlyphs" fill="#1a1a1a" font-family="'Liberation Serif', serif" >0.4</text>
<text x="391.57" y="225.40" font-size="6.8" stroke="#1a1a1a" stroke-width="0.16" textLength="7.30" lengthAdjust="spacingAndGlyphs" fill="#1a1a1a" font-family="'Liberation Serif', serif" >0.6</text>
<text x="414.51" y="225.40" font-size="6.8" stroke="#1a1a1a" stroke-width="0.16" textLength="7.30" lengthAdjust="spacingAndGlyphs" fill="#1a1a1a" font-family="'Liberation Serif', serif" >0.8</text>
<text x="437.45" y="225.40" font-size="6.8" stroke="#1a1a1a" stroke-width="0.16" textLength="7.30" lengthAdjust="spacingAndGlyphs" fill="#1a1a1a" font-family="'Liberation Serif', serif" >1.0</text>
<text x="460.39" y="225.40" font-size="6.8" stroke="#1a1a1a" stroke-width="0.16" textLength="7.30" lengthAdjust="spacingAndGlyphs" fill="#1a1a1a" font-family="'Liberation Serif', serif" >1.2</text>
<text x="483.33" y="225.40" font-size="6.8" stroke="#1a1a1a" stroke-width="0.16" textLength="7.30" lengthAdjust="spacingAndGlyphs" fill="#1a1a1a" font-family="'Liberation Serif', serif" >1.4</text>
<text x="506.27" y="225.40" font-size="6.8" stroke="#1a1a1a" stroke-width="0.16" textLength="7.30" lengthAdjust="spacingAndGlyphs" fill="#1a1a1a" font-family="'Liberation Serif', serif" >1.6</text>
<text x="529.21" y="225.40" font-size="6.8" stroke="#1a1a1a" stroke-width="0.16" textLength="7.30" lengthAdjust="spacingAndGlyphs" fill="#1a1a1a" font-family="'Liberation Serif', serif" >1.8</text>
<text x="424.40" y="240.10" font-size="13.5" fill="#1c1c1c" font-family="'Liberation Serif', 'DejaVu Serif', serif" >(</text>
<text x="428.90" y="240.10" font-size="13.5" font-weight="bold" fill="#1c1c1c" font-family="'Liberation Serif', 'DejaVu Serif', serif" >b</text>
<text x="436.40" y="240.10" font-size="13.5" fill="#1c1c1c" font-family="'Liberation Serif', 'DejaVu Serif', serif" >)</text>
<line x1="362.32" y1="252.30" x2="362.32" y2="348.40" stroke="#efefef" stroke-width="0.7" />
<line x1="395.34" y1="252.30" x2="395.34" y2="348.40" stroke="#efefef" stroke-width="0.7" />
<line x1="428.36" y1="252.30" x2="428.36" y2="348.40" stroke="#efefef" stroke-width="0.7" />
<line x1="461.38" y1="252.30" x2="461.38" y2="348.40" stroke="#efefef" stroke-width="0.7" />
<line x1="494.40" y1="252.30" x2="494.40" y2="348.40" stroke="#efefef" stroke-width="0.7" />
<line x1="527.42" y1="252.30" x2="527.42" y2="348.40" stroke="#efefef" stroke-width="0.7" />
<line x1="329.30" y1="346.20" x2="543.50" y2="346.20" stroke="#efefef" stroke-width="0.7" />
<line x1="329.30" y1="337.66" x2="543.50" y2="337.66" stroke="#efefef" stroke-width="0.7" />
<line x1="329.30" y1="329.12" x2="543.50" y2="329.12" stroke="#efefef" stroke-width="0.7" />
<line x1="329.30" y1="320.58" x2="543.50" y2="320.58" stroke="#efefef" stroke-width="0.7" />
<line x1="329.30" y1="312.04" x2="543.50" y2="312.04" stroke="#efefef" stroke-width="0.7" />
<line x1="329.30" y1="303.50" x2="543.50" y2="303.50" stroke="#efefef" stroke-width="0.7" />
<line x1="329.30" y1="294.96" x2="543.50" y2="294.96" stroke="#efefef" stroke-width="0.7" />
<line x1="329.30" y1="286.42" x2="543.50" y2="286.42" stroke="#efefef" stroke-width="0.7" />
<line x1="329.30" y1="277.88" x2="543.50" y2="277.88" stroke="#efefef" stroke-width="0.7" />
<line x1="329.30" y1="269.34" x2="543.50" y2="269.34" stroke="#efefef" stroke-width="0.7" />
<line x1="329.30" y1="260.80" x2="543.50" y2="260.80" stroke="#efefef" stroke-width="0.7" />
<rect x="329.30" y="252.30" width="214.20" height="96.10" fill="none" stroke="#d4d4d4" stroke-width="1.0"/>
<line x1="329.30" y1="252.30" x2="543.50" y2="252.30" stroke="#d2d2d2" stroke-width="1.4" />
<line x1="543.50" y1="252.30" x2="543.50" y2="348.40" stroke="#d6d6d6" stroke-width="1.1" />
<line x1="328.10" y1="346.20" x2="329.30" y2="346.20" stroke="#999" stroke-width="0.6" />
<text x="317.50" y="348.55" font-size="6.8" stroke="#1a1a1a" stroke-width="0.16" textLength="9.40" lengthAdjust="spacingAndGlyphs" fill="#1a1a1a" font-family="'Liberation Serif', serif" >3.68</text>
<line x1="328.10" y1="337.66" x2="329.30" y2="337.66" stroke="#999" stroke-width="0.6" />
<text x="317.50" y="340.01" font-size="6.8" stroke="#1a1a1a" stroke-width="0.16" textLength="9.40" lengthAdjust="spacingAndGlyphs" fill="#1a1a1a" font-family="'Liberation Serif', serif" >3.70</text>
<line x1="328.10" y1="329.12" x2="329.30" y2="329.12" stroke="#999" stroke-width="0.6" />
<text x="317.50" y="331.47" font-size="6.8" stroke="#1a1a1a" stroke-width="0.16" textLength="9.40" lengthAdjust="spacingAndGlyphs" fill="#1a1a1a" font-family="'Liberation Serif', serif" >3.72</text>
<line x1="328.10" y1="320.58" x2="329.30" y2="320.58" stroke="#999" stroke-width="0.6" />
<text x="317.50" y="322.93" font-size="6.8" stroke="#1a1a1a" stroke-width="0.16" textLength="9.40" lengthAdjust="spacingAndGlyphs" fill="#1a1a1a" font-family="'Liberation Serif', serif" >3.74</text>
<line x1="328.10" y1="312.04" x2="329.30" y2="312.04" stroke="#999" stroke-width="0.6" />
<text x="317.50" y="314.39" font-size="6.8" stroke="#1a1a1a" stroke-width="0.16" textLength="9.40" lengthAdjust="spacingAndGlyphs" fill="#1a1a1a" font-family="'Liberation Serif', serif" >3.76</text>
<line x1="328.10" y1="303.50" x2="329.30" y2="303.50" stroke="#999" stroke-width="0.6" />
<text x="317.50" y="305.85" font-size="6.8" stroke="#1a1a1a" stroke-width="0.16" textLength="9.40" lengthAdjust="spacingAndGlyphs" fill="#1a1a1a" font-family="'Liberation Serif', serif" >3.78</text>
<line x1="328.10" y1="294.96" x2="329.30" y2="294.96" stroke="#999" stroke-width="0.6" />
<text x="317.50" y="297.31" font-size="6.8" stroke="#1a1a1a" stroke-width="0.16" textLength="9.40" lengthAdjust="spacingAndGlyphs" fill="#1a1a1a" font-family="'Liberation Serif', serif" >3.80</text>
<line x1="328.10" y1="286.42" x2="329.30" y2="286.42" stroke="#999" stroke-width="0.6" />
<text x="317.50" y="288.77" font-size="6.8" stroke="#1a1a1a" stroke-width="0.16" textLength="9.40" lengthAdjust="spacingAndGlyphs" fill="#1a1a1a" font-family="'Liberation Serif', serif" >3.82</text>
<line x1="328.10" y1="277.88" x2="329.30" y2="277.88" stroke="#999" stroke-width="0.6" />
<text x="317.50" y="280.23" font-size="6.8" stroke="#1a1a1a" stroke-width="0.16" textLength="9.40" lengthAdjust="spacingAndGlyphs" fill="#1a1a1a" font-family="'Liberation Serif', serif" >3.84</text>
<line x1="328.10" y1="269.34" x2="329.30" y2="269.34" stroke="#999" stroke-width="0.6" />
<text x="317.50" y="271.69" font-size="6.8" stroke="#1a1a1a" stroke-width="0.16" textLength="9.40" lengthAdjust="spacingAndGlyphs" fill="#1a1a1a" font-family="'Liberation Serif', serif" >3.86</text>
<line x1="328.10" y1="260.80" x2="329.30" y2="260.80" stroke="#999" stroke-width="0.6" />
<text x="317.50" y="263.15" font-size="6.8" stroke="#1a1a1a" stroke-width="0.16" textLength="9.40" lengthAdjust="spacingAndGlyphs" fill="#1a1a1a" font-family="'Liberation Serif', serif" >3.88</text>
<text x="325.65" y="355.40" font-size="6.8" stroke="#1a1a1a" stroke-width="0.16" textLength="7.30" lengthAdjust="spacingAndGlyphs" fill="#1a1a1a" font-family="'Liberation Serif', serif" >0.0</text>
<text x="358.67" y="355.40" font-size="6.8" stroke="#1a1a1a" stroke-width="0.16" textLength="7.30" lengthAdjust="spacingAndGlyphs" fill="#1a1a1a" font-family="'Liberation Serif', serif" >0.2</text>
<text x="391.69" y="355.40" font-size="6.8" stroke="#1a1a1a" stroke-width="0.16" textLength="7.30" lengthAdjust="spacingAndGlyphs" fill="#1a1a1a" font-family="'Liberation Serif', serif" >0.4</text>
<text x="424.71" y="355.40" font-size="6.8" stroke="#1a1a1a" stroke-width="0.16" textLength="7.30" lengthAdjust="spacingAndGlyphs" fill="#1a1a1a" font-family="'Liberation Serif', serif" >0.6</text>
<text x="457.73" y="355.40" font-size="6.8" stroke="#1a1a1a" stroke-width="0.16" textLength="7.30" lengthAdjust="spacingAndGlyphs" fill="#1a1a1a" font-family="'Liberation Serif', serif" >0.8</text>
<text x="490.75" y="355.40" font-size="6.8" stroke="#1a1a1a" stroke-width="0.16" textLength="7.30" lengthAdjust="spacingAndGlyphs" fill="#1a1a1a" font-family="'Liberation Serif', serif" >1.0</text>
<text x="523.77" y="355.40" font-size="6.8" stroke="#1a1a1a" stroke-width="0.16" textLength="7.30" lengthAdjust="spacingAndGlyphs" fill="#1a1a1a" font-family="'Liberation Serif', serif" >1.2</text>
<polyline points="329.30,301.49 409.87,330.45" fill="none" stroke="#2088f0" stroke-width="1.12" stroke-linejoin="round" />
<polyline points="329.30,286.29 441.24,328.17" fill="none" stroke="#fa2a48" stroke-width="1.12" stroke-linejoin="round" />
<polyline points="329.40,260.62 334.98,262.53 340.56,264.47 346.14,266.43 351.73,268.42 357.31,270.42 362.89,272.46 368.47,274.51 374.05,276.59 379.63,278.69 385.21,280.82 390.80,282.97 396.38,285.14 401.96,287.34 407.54,289.56 413.12,291.80 418.70,294.07 424.29,296.36 429.87,298.67 435.45,301.01 441.03,303.37 446.61,305.76 452.19,308.16 457.77,310.60 463.36,313.05 468.94,315.53 474.52,318.03 480.10,320.56 485.68,323.11 491.26,325.68" fill="none" stroke="#4fda5c" stroke-width="1.12" stroke-linejoin="round" />
<polyline points="329.30,325.02 359.02,335.74 359.04,335.38 361.74,335.04 364.45,334.71 367.15,334.38 369.85,334.06 372.56,333.74 375.26,333.44 377.96,333.14 380.67,332.85 383.37,332.56 386.07,332.29 388.78,332.01 391.48,331.75 394.18,331.49 396.89,331.24 399.59,330.99 402.29,330.75 405.00,330.51 407.70,330.28 410.41,330.05 413.11,329.83 415.81,329.62 418.52,329.41 421.22,329.20 423.92,329.00 426.63,328.81 429.33,328.62 432.03,328.43 434.74,328.25 437.44,328.07 440.14,327.89 442.85,327.72 445.55,327.56 448.25,327.39 450.96,327.23 453.66,327.08 456.37,326.93 459.07,326.78 461.77,326.64 464.48,326.49 467.18,326.36 469.88,326.22 472.59,326.09 475.29,325.96 477.99,325.84 480.70,325.71 483.40,325.59 486.10,325.48 488.81,325.36 491.51,325.26" fill="none" stroke="#eeb11a" stroke-width="1.12" stroke-linejoin="round" />
<polyline points="491.26,325.51 543.70,325.51" fill="none" stroke="#9fb62c" stroke-width="1.12" stroke-linejoin="round" />
<polyline points="329.30,340.84 332.00,340.40 334.71,339.97 337.41,339.54 340.11,339.13 342.82,338.72 345.52,338.33 348.22,337.94 350.93,337.56 353.63,337.20 356.34,336.84 359.04,336.48 361.74,336.14 364.45,335.81 367.15,335.48 369.85,335.16 372.56,334.84 375.26,334.54 377.96,334.24 380.67,333.95 383.37,333.66 386.07,333.39 388.78,333.11 391.48,332.85 394.18,332.59 396.89,332.34 399.59,332.09 402.29,331.85 405.00,331.61 407.70,331.38 410.41,331.15 413.11,330.93 415.81,330.72 418.52,330.51 421.22,330.30 423.92,330.10 426.63,329.91 429.33,329.72 432.03,329.53 434.74,329.35 437.44,329.17 440.14,328.99 442.85,328.82 445.55,328.66 448.25,328.49 450.96,328.33 453.66,328.18 456.37,328.03 459.07,327.88 461.77,327.74 464.48,327.59 467.18,327.46 469.88,327.32 472.59,327.19 475.29,327.06 477.99,326.94 480.70,326.81 483.40,326.69 486.10,326.58 488.81,326.46 491.51,326.36 494.21,326.36 496.92,326.36 499.62,326.36 502.32,326.36 505.03,326.36 507.73,326.36 510.44,326.36 513.14,326.36 515.84,326.36 518.55,326.36 521.25,326.36 523.95,326.36 526.66,326.36 529.36,326.36 532.06,326.36 534.77,326.36 537.47,326.36 540.17,326.36 542.88,326.36 543.70,326.36" fill="none" stroke="#fa36e6" stroke-width="1.12" stroke-linejoin="round" />
<rect x="520.40" y="253.30" width="22.60" height="24.30" fill="#fff" fill-opacity="0.9" stroke="#cfcfcf" stroke-width="0.6"/>
<line x1="521.70" y1="256.50" x2="526.30" y2="256.50" stroke="#4fda5c" stroke-width="1.2" />
<text x="528.00" y="258.10" font-size="4.4" stroke="#2a2a2a" stroke-width="0.08" textLength="14.00" lengthAdjust="spacingAndGlyphs" fill="#2a2a2a" font-family="'Liberation Serif', serif" >Cell_1V</text>
<line x1="521.70" y1="260.90" x2="526.30" y2="260.90" stroke="#fa2a48" stroke-width="1.2" />
<text x="528.00" y="262.50" font-size="4.4" stroke="#2a2a2a" stroke-width="0.08" textLength="14.00" lengthAdjust="spacingAndGlyphs" fill="#2a2a2a" font-family="'Liberation Serif', serif" >Cell_2V</text>
<line x1="521.70" y1="265.40" x2="526.30" y2="265.40" stroke="#2088f0" stroke-width="1.2" />
<text x="528.00" y="267.00" font-size="4.4" stroke="#2a2a2a" stroke-width="0.08" textLength="14.00" lengthAdjust="spacingAndGlyphs" fill="#2a2a2a" font-family="'Liberation Serif', serif" >Cell_3V</text>
<line x1="521.70" y1="269.70" x2="526.30" y2="269.70" stroke="#eeb11a" stroke-width="1.2" />
<text x="528.00" y="271.30" font-size="4.4" stroke="#2a2a2a" stroke-width="0.08" textLength="14.00" lengthAdjust="spacingAndGlyphs" fill="#2a2a2a" font-family="'Liberation Serif', serif" >Cell_4V</text>
<line x1="521.70" y1="274.10" x2="526.30" y2="274.10" stroke="#fa36e6" stroke-width="1.2" />
<text x="528.00" y="275.70" font-size="4.4" stroke="#2a2a2a" stroke-width="0.08" textLength="14.00" lengthAdjust="spacingAndGlyphs" fill="#2a2a2a" font-family="'Liberation Serif', serif" >Cell_5V</text>
<line x1="360.44" y1="364.50" x2="360.44" y2="376.00" stroke="#efefef" stroke-width="0.7" />
<line x1="393.88" y1="364.50" x2="393.88" y2="376.00" stroke="#efefef" stroke-width="0.7" />
<line x1="427.32" y1="364.50" x2="427.32" y2="376.00" stroke="#efefef" stroke-width="0.7" />
<line x1="460.76" y1="364.50" x2="460.76" y2="376.00" stroke="#efefef" stroke-width="0.7" />
<line x1="494.20" y1="364.50" x2="494.20" y2="376.00" stroke="#efefef" stroke-width="0.7" />
<line x1="527.64" y1="364.50" x2="527.64" y2="376.00" stroke="#efefef" stroke-width="0.7" />
<line x1="326.50" y1="370.55" x2="543.70" y2="370.55" stroke="#efefef" stroke-width="0.7" />
<line x1="326.50" y1="365.70" x2="543.70" y2="365.70" stroke="#efefef" stroke-width="0.7" />
<rect x="326.50" y="364.50" width="217.20" height="11.50" fill="none" stroke="#d4d4d4" stroke-width="0.9"/>
<line x1="326.50" y1="364.50" x2="543.70" y2="364.50" stroke="#d0d0d0" stroke-width="1.2" />
<line x1="543.70" y1="364.50" x2="543.70" y2="376.00" stroke="#d6d6d6" stroke-width="1.0" />
<text x="317.50" y="368.00" font-size="6.4" stroke="#1a1a1a" stroke-width="0.1" textLength="6.90" lengthAdjust="spacingAndGlyphs" fill="#1a1a1a" font-family="'Liberation Serif', serif" >1.0</text>
<text x="317.50" y="372.70" font-size="6.4" stroke="#1a1a1a" stroke-width="0.1" textLength="6.90" lengthAdjust="spacingAndGlyphs" fill="#1a1a1a" font-family="'Liberation Serif', serif" >0.5</text>
<text x="317.50" y="377.50" font-size="6.4" stroke="#1a1a1a" stroke-width="0.1" textLength="6.90" lengthAdjust="spacingAndGlyphs" fill="#1a1a1a" font-family="'Liberation Serif', serif" >0.0</text>
<polyline points="326.50,375.40 328.70,375.40 328.70,365.70 490.35,365.70 490.35,375.40 543.70,375.40" fill="none" stroke="#4fda5c" stroke-width="1.35" stroke-linejoin="round" />
<rect x="518.40" y="366.30" width="25.10" height="5.80" fill="#fff" fill-opacity="0.9" stroke="#cfcfcf" stroke-width="0.6"/>
<line x1="519.90" y1="369.20" x2="524.40" y2="369.20" stroke="#4fda5c" stroke-width="1.2" />
<text x="526.30" y="370.70" font-size="4.4" stroke="#2a2a2a" stroke-width="0.08" textLength="15.50" lengthAdjust="spacingAndGlyphs" fill="#2a2a2a" font-family="'Liberation Serif', serif" >C-Script 1</text>
<line x1="360.44" y1="385.50" x2="360.44" y2="397.00" stroke="#efefef" stroke-width="0.7" />
<line x1="393.88" y1="385.50" x2="393.88" y2="397.00" stroke="#efefef" stroke-width="0.7" />
<line x1="427.32" y1="385.50" x2="427.32" y2="397.00" stroke="#efefef" stroke-width="0.7" />
<line x1="460.76" y1="385.50" x2="460.76" y2="397.00" stroke="#efefef" stroke-width="0.7" />
<line x1="494.20" y1="385.50" x2="494.20" y2="397.00" stroke="#efefef" stroke-width="0.7" />
<line x1="527.64" y1="385.50" x2="527.64" y2="397.00" stroke="#efefef" stroke-width="0.7" />
<line x1="326.50" y1="391.55" x2="543.70" y2="391.55" stroke="#efefef" stroke-width="0.7" />
<line x1="326.50" y1="386.70" x2="543.70" y2="386.70" stroke="#efefef" stroke-width="0.7" />
<rect x="326.50" y="385.50" width="217.20" height="11.50" fill="none" stroke="#d4d4d4" stroke-width="0.9"/>
<line x1="326.50" y1="385.50" x2="543.70" y2="385.50" stroke="#d0d0d0" stroke-width="1.2" />
<line x1="543.70" y1="385.50" x2="543.70" y2="397.00" stroke="#d6d6d6" stroke-width="1.0" />
<text x="317.50" y="389.00" font-size="6.4" stroke="#1a1a1a" stroke-width="0.1" textLength="6.90" lengthAdjust="spacingAndGlyphs" fill="#1a1a1a" font-family="'Liberation Serif', serif" >1.0</text>
<text x="317.50" y="393.70" font-size="6.4" stroke="#1a1a1a" stroke-width="0.1" textLength="6.90" lengthAdjust="spacingAndGlyphs" fill="#1a1a1a" font-family="'Liberation Serif', serif" >0.5</text>
<text x="317.50" y="398.50" font-size="6.4" stroke="#1a1a1a" stroke-width="0.1" textLength="6.90" lengthAdjust="spacingAndGlyphs" fill="#1a1a1a" font-family="'Liberation Serif', serif" >0.0</text>
<polyline points="326.50,396.40 328.70,396.40 328.70,386.70 438.36,386.70 438.36,396.40 543.70,396.40" fill="none" stroke="#4fda5c" stroke-width="1.35" stroke-linejoin="round" />
<rect x="518.40" y="387.30" width="25.10" height="5.80" fill="#fff" fill-opacity="0.9" stroke="#cfcfcf" stroke-width="0.6"/>
<line x1="519.90" y1="390.20" x2="524.40" y2="390.20" stroke="#4fda5c" stroke-width="1.2" />
<text x="526.30" y="391.70" font-size="4.4" stroke="#2a2a2a" stroke-width="0.08" textLength="15.50" lengthAdjust="spacingAndGlyphs" fill="#2a2a2a" font-family="'Liberation Serif', serif" >C-Script 2</text>
<line x1="360.44" y1="406.50" x2="360.44" y2="418.00" stroke="#efefef" stroke-width="0.7" />
<line x1="393.88" y1="406.50" x2="393.88" y2="418.00" stroke="#efefef" stroke-width="0.7" />
<line x1="427.32" y1="406.50" x2="427.32" y2="418.00" stroke="#efefef" stroke-width="0.7" />
<line x1="460.76" y1="406.50" x2="460.76" y2="418.00" stroke="#efefef" stroke-width="0.7" />
<line x1="494.20" y1="406.50" x2="494.20" y2="418.00" stroke="#efefef" stroke-width="0.7" />
<line x1="527.64" y1="406.50" x2="527.64" y2="418.00" stroke="#efefef" stroke-width="0.7" />
<line x1="326.50" y1="412.55" x2="543.70" y2="412.55" stroke="#efefef" stroke-width="0.7" />
<line x1="326.50" y1="407.70" x2="543.70" y2="407.70" stroke="#efefef" stroke-width="0.7" />
<rect x="326.50" y="406.50" width="217.20" height="11.50" fill="none" stroke="#d4d4d4" stroke-width="0.9"/>
<line x1="326.50" y1="406.50" x2="543.70" y2="406.50" stroke="#d0d0d0" stroke-width="1.2" />
<line x1="543.70" y1="406.50" x2="543.70" y2="418.00" stroke="#d6d6d6" stroke-width="1.0" />
<text x="317.50" y="410.00" font-size="6.4" stroke="#1a1a1a" stroke-width="0.1" textLength="6.90" lengthAdjust="spacingAndGlyphs" fill="#1a1a1a" font-family="'Liberation Serif', serif" >1.0</text>
<text x="317.50" y="414.70" font-size="6.4" stroke="#1a1a1a" stroke-width="0.1" textLength="6.90" lengthAdjust="spacingAndGlyphs" fill="#1a1a1a" font-family="'Liberation Serif', serif" >0.5</text>
<text x="317.50" y="419.50" font-size="6.4" stroke="#1a1a1a" stroke-width="0.1" textLength="6.90" lengthAdjust="spacingAndGlyphs" fill="#1a1a1a" font-family="'Liberation Serif', serif" >0.0</text>
<polyline points="326.50,417.40 328.70,417.40 328.70,407.70 406.75,407.70 406.75,417.40 543.70,417.40" fill="none" stroke="#4fda5c" stroke-width="1.35" stroke-linejoin="round" />
<rect x="518.40" y="408.30" width="25.10" height="5.80" fill="#fff" fill-opacity="0.9" stroke="#cfcfcf" stroke-width="0.6"/>
<line x1="519.90" y1="411.20" x2="524.40" y2="411.20" stroke="#4fda5c" stroke-width="1.2" />
<text x="526.30" y="412.70" font-size="4.4" stroke="#2a2a2a" stroke-width="0.08" textLength="15.50" lengthAdjust="spacingAndGlyphs" fill="#2a2a2a" font-family="'Liberation Serif', serif" >C-Script 3</text>
<line x1="360.44" y1="427.50" x2="360.44" y2="439.00" stroke="#efefef" stroke-width="0.7" />
<line x1="393.88" y1="427.50" x2="393.88" y2="439.00" stroke="#efefef" stroke-width="0.7" />
<line x1="427.32" y1="427.50" x2="427.32" y2="439.00" stroke="#efefef" stroke-width="0.7" />
<line x1="460.76" y1="427.50" x2="460.76" y2="439.00" stroke="#efefef" stroke-width="0.7" />
<line x1="494.20" y1="427.50" x2="494.20" y2="439.00" stroke="#efefef" stroke-width="0.7" />
<line x1="527.64" y1="427.50" x2="527.64" y2="439.00" stroke="#efefef" stroke-width="0.7" />
<line x1="326.50" y1="433.55" x2="543.70" y2="433.55" stroke="#efefef" stroke-width="0.7" />
<line x1="326.50" y1="428.70" x2="543.70" y2="428.70" stroke="#efefef" stroke-width="0.7" />
<rect x="326.50" y="427.50" width="217.20" height="11.50" fill="none" stroke="#d4d4d4" stroke-width="0.9"/>
<line x1="326.50" y1="427.50" x2="543.70" y2="427.50" stroke="#d0d0d0" stroke-width="1.2" />
<line x1="543.70" y1="427.50" x2="543.70" y2="439.00" stroke="#d6d6d6" stroke-width="1.0" />
<text x="317.50" y="431.00" font-size="6.4" stroke="#1a1a1a" stroke-width="0.1" textLength="6.90" lengthAdjust="spacingAndGlyphs" fill="#1a1a1a" font-family="'Liberation Serif', serif" >1.0</text>
<text x="317.50" y="435.70" font-size="6.4" stroke="#1a1a1a" stroke-width="0.1" textLength="6.90" lengthAdjust="spacingAndGlyphs" fill="#1a1a1a" font-family="'Liberation Serif', serif" >0.5</text>
<text x="317.50" y="440.50" font-size="6.4" stroke="#1a1a1a" stroke-width="0.1" textLength="6.90" lengthAdjust="spacingAndGlyphs" fill="#1a1a1a" font-family="'Liberation Serif', serif" >0.0</text>
<polyline points="326.50,438.40 328.70,438.40 328.70,428.70 357.10,428.70 357.10,438.40 543.70,438.40" fill="none" stroke="#4fda5c" stroke-width="1.35" stroke-linejoin="round" />
<rect x="518.40" y="429.30" width="25.10" height="5.80" fill="#fff" fill-opacity="0.9" stroke="#cfcfcf" stroke-width="0.6"/>
<line x1="519.90" y1="432.20" x2="524.40" y2="432.20" stroke="#4fda5c" stroke-width="1.2" />
<text x="526.30" y="433.70" font-size="4.4" stroke="#2a2a2a" stroke-width="0.08" textLength="15.50" lengthAdjust="spacingAndGlyphs" fill="#2a2a2a" font-family="'Liberation Serif', serif" >C-Script 4</text>
<line x1="360.44" y1="448.50" x2="360.44" y2="460.00" stroke="#efefef" stroke-width="0.7" />
<line x1="393.88" y1="448.50" x2="393.88" y2="460.00" stroke="#efefef" stroke-width="0.7" />
<line x1="427.32" y1="448.50" x2="427.32" y2="460.00" stroke="#efefef" stroke-width="0.7" />
<line x1="460.76" y1="448.50" x2="460.76" y2="460.00" stroke="#efefef" stroke-width="0.7" />
<line x1="494.20" y1="448.50" x2="494.20" y2="460.00" stroke="#efefef" stroke-width="0.7" />
<line x1="527.64" y1="448.50" x2="527.64" y2="460.00" stroke="#efefef" stroke-width="0.7" />
<line x1="326.50" y1="454.55" x2="543.70" y2="454.55" stroke="#efefef" stroke-width="0.7" />
<line x1="326.50" y1="449.70" x2="543.70" y2="449.70" stroke="#efefef" stroke-width="0.7" />
<rect x="326.50" y="448.50" width="217.20" height="11.50" fill="none" stroke="#d4d4d4" stroke-width="0.9"/>
<line x1="326.50" y1="448.50" x2="543.70" y2="448.50" stroke="#d0d0d0" stroke-width="1.2" />
<line x1="543.70" y1="448.50" x2="543.70" y2="460.00" stroke="#d6d6d6" stroke-width="1.0" />
<text x="317.50" y="452.00" font-size="6.4" stroke="#1a1a1a" stroke-width="0.1" textLength="6.90" lengthAdjust="spacingAndGlyphs" fill="#1a1a1a" font-family="'Liberation Serif', serif" >1.0</text>
<text x="317.50" y="456.70" font-size="6.4" stroke="#1a1a1a" stroke-width="0.1" textLength="6.90" lengthAdjust="spacingAndGlyphs" fill="#1a1a1a" font-family="'Liberation Serif', serif" >0.5</text>
<text x="317.50" y="461.50" font-size="6.4" stroke="#1a1a1a" stroke-width="0.1" textLength="6.90" lengthAdjust="spacingAndGlyphs" fill="#1a1a1a" font-family="'Liberation Serif', serif" >0.0</text>
<polyline points="326.50,459.40 543.70,459.40" fill="none" stroke="#4fda5c" stroke-width="1.35" stroke-linejoin="round" />
<rect x="518.40" y="450.30" width="25.10" height="5.80" fill="#fff" fill-opacity="0.9" stroke="#cfcfcf" stroke-width="0.6"/>
<line x1="519.90" y1="453.20" x2="524.40" y2="453.20" stroke="#4fda5c" stroke-width="1.2" />
<text x="526.30" y="454.70" font-size="4.4" stroke="#2a2a2a" stroke-width="0.08" textLength="15.50" lengthAdjust="spacingAndGlyphs" fill="#2a2a2a" font-family="'Liberation Serif', serif" >C-Script 5</text>
<text x="323.35" y="467.80" font-size="6.8" stroke="#1a1a1a" stroke-width="0.16" textLength="7.30" lengthAdjust="spacingAndGlyphs" fill="#1a1a1a" font-family="'Liberation Serif', serif" >0.0</text>
<text x="356.79" y="467.80" font-size="6.8" stroke="#1a1a1a" stroke-width="0.16" textLength="7.30" lengthAdjust="spacingAndGlyphs" fill="#1a1a1a" font-family="'Liberation Serif', serif" >0.2</text>
<text x="390.23" y="467.80" font-size="6.8" stroke="#1a1a1a" stroke-width="0.16" textLength="7.30" lengthAdjust="spacingAndGlyphs" fill="#1a1a1a" font-family="'Liberation Serif', serif" >0.4</text>
<text x="423.67" y="467.80" font-size="6.8" stroke="#1a1a1a" stroke-width="0.16" textLength="7.30" lengthAdjust="spacingAndGlyphs" fill="#1a1a1a" font-family="'Liberation Serif', serif" >0.6</text>
<text x="457.11" y="467.80" font-size="6.8" stroke="#1a1a1a" stroke-width="0.16" textLength="7.30" lengthAdjust="spacingAndGlyphs" fill="#1a1a1a" font-family="'Liberation Serif', serif" >0.8</text>
<text x="490.55" y="467.80" font-size="6.8" stroke="#1a1a1a" stroke-width="0.16" textLength="7.30" lengthAdjust="spacingAndGlyphs" fill="#1a1a1a" font-family="'Liberation Serif', serif" >1.0</text>
<text x="523.99" y="467.80" font-size="6.8" stroke="#1a1a1a" stroke-width="0.16" textLength="7.30" lengthAdjust="spacingAndGlyphs" fill="#1a1a1a" font-family="'Liberation Serif', serif" >1.2</text>
<text x="425.50" y="483.40" font-size="13.5" fill="#1c1c1c" font-family="'Liberation Serif', 'DejaVu Serif', serif" >(</text>
<text x="429.80" y="483.40" font-size="13.5" font-weight="bold" fill="#1c1c1c" font-family="'Liberation Serif', 'DejaVu Serif', serif" >c</text>
<text x="435.70" y="483.40" font-size="13.5" fill="#1c1c1c" font-family="'Liberation Serif', 'DejaVu Serif', serif" >)</text>
</svg>
</body></html>
